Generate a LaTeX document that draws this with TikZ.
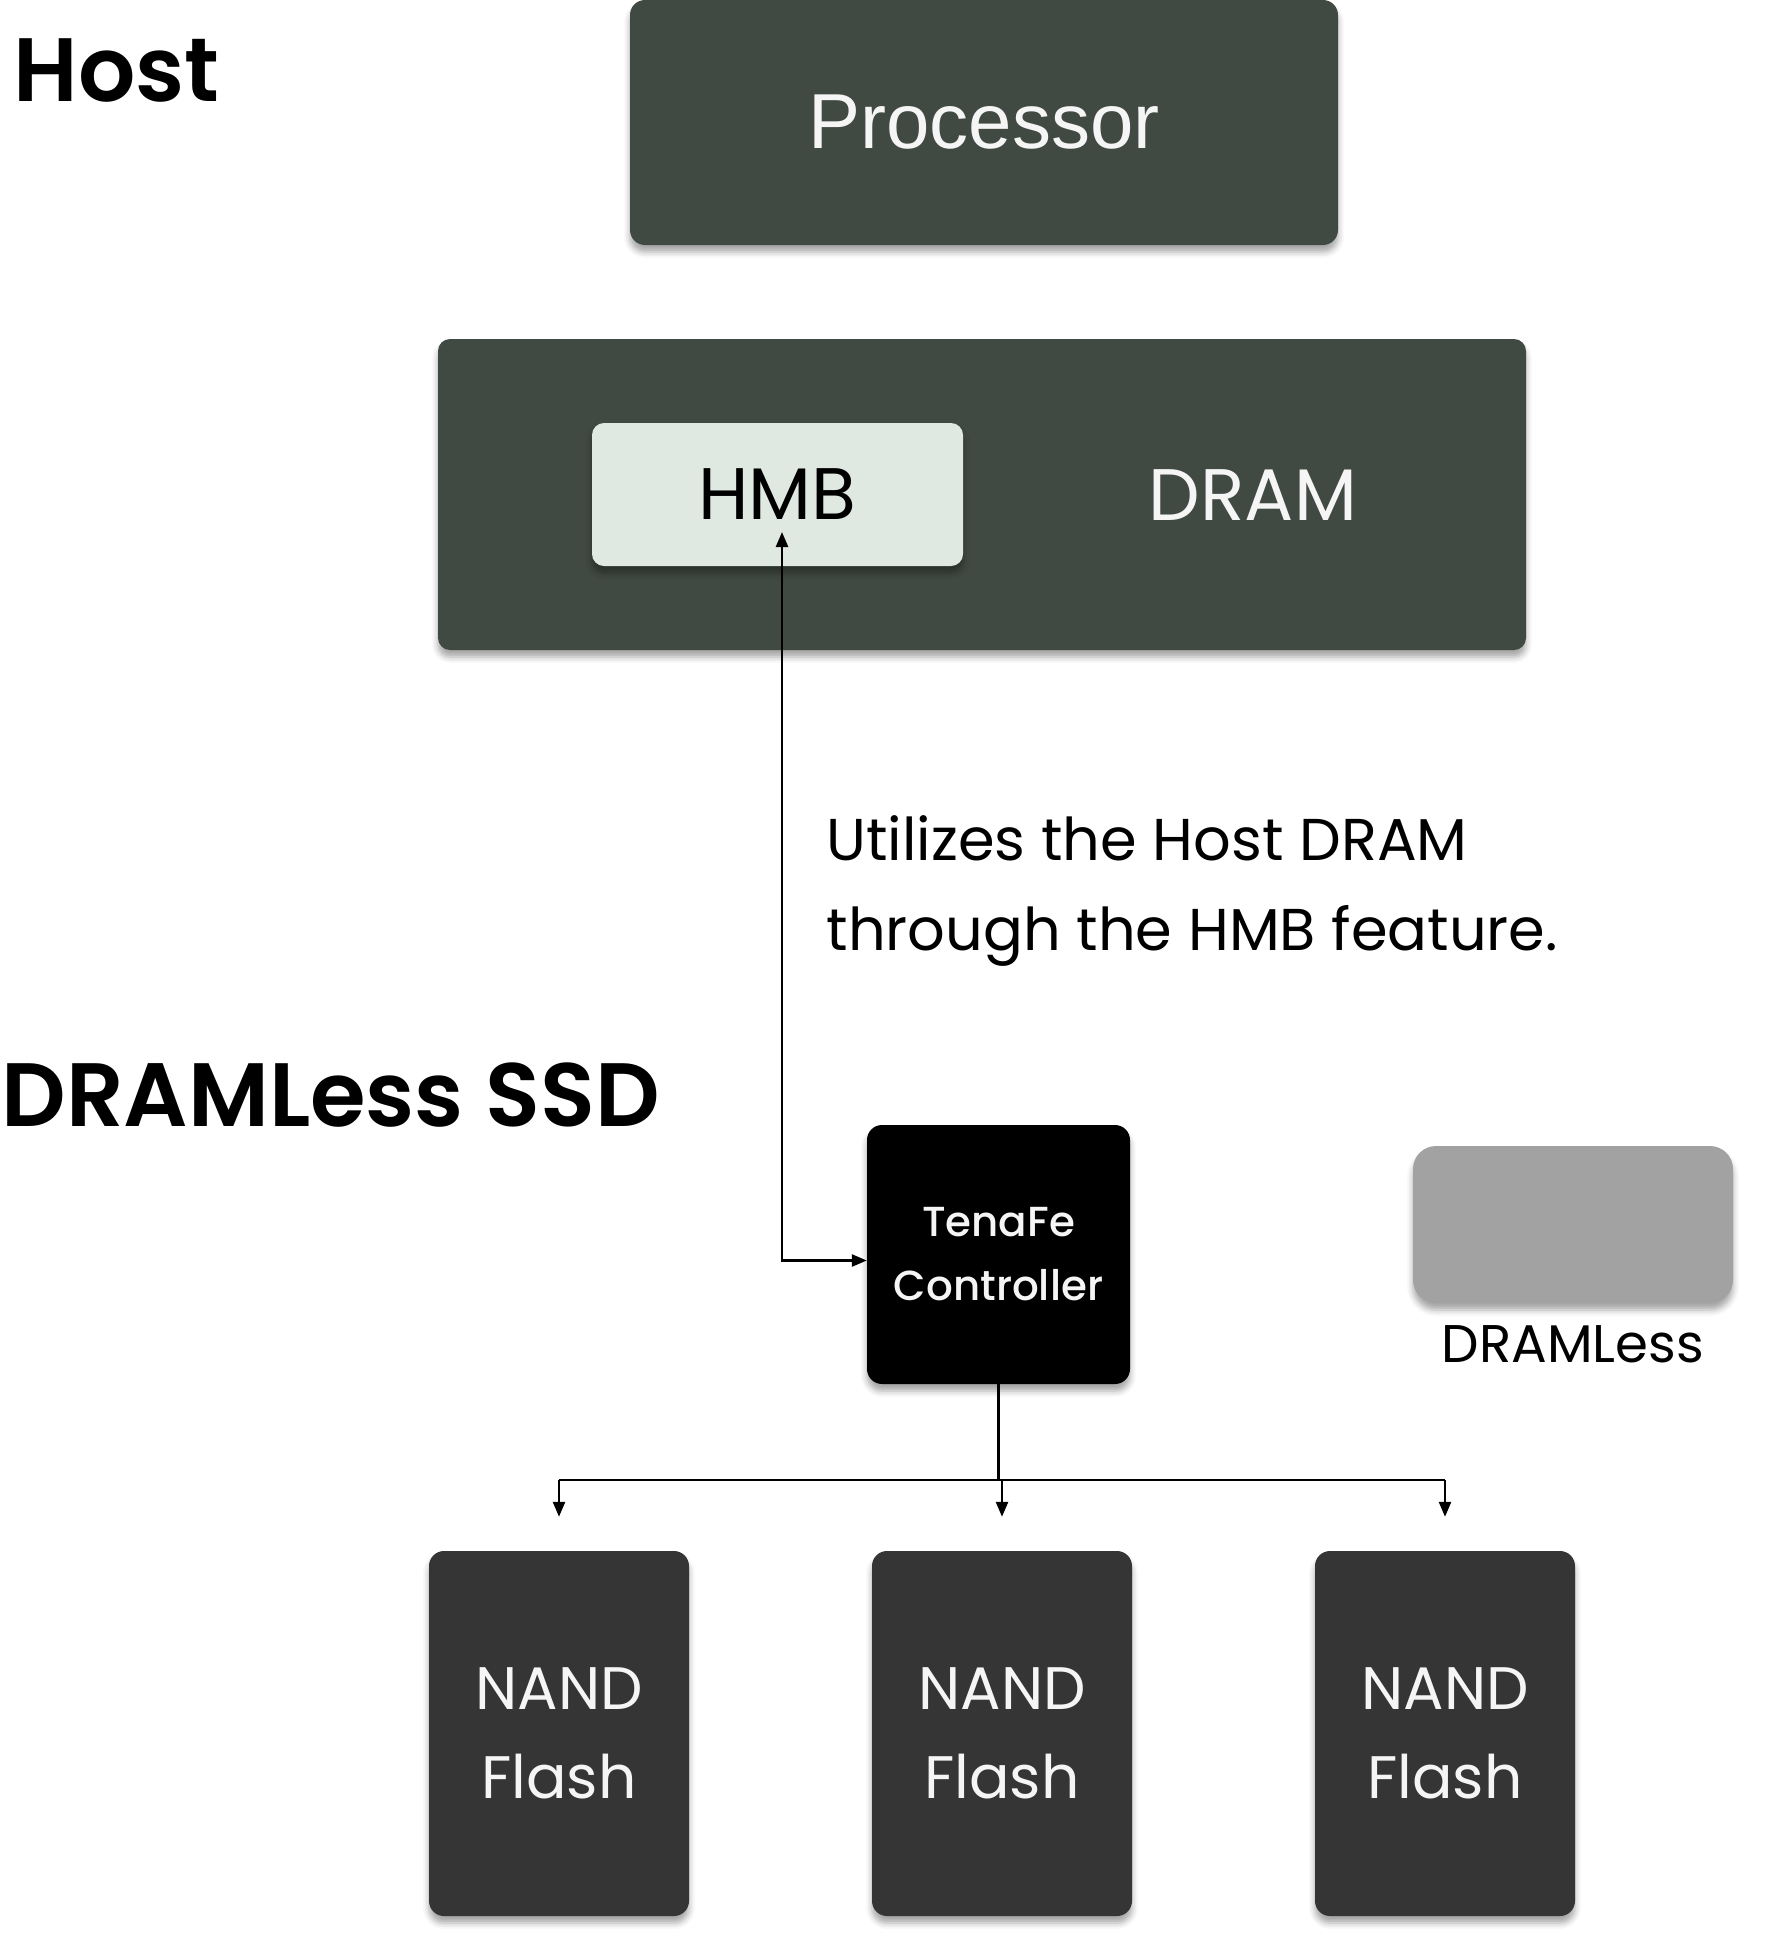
\documentclass[tikz,border=0pt]{standalone}
\usepackage{fontspec}
\setmainfont{Poppins}
\newfontfamily\procfont{Liberation Sans}
\newfontfamily\semifont{Poppins SemiBold}
\newfontfamily\medfont{Poppins Medium}
\usetikzlibrary{positioning,arrows.meta,shadows.blur}

\definecolor{hostgreen}{RGB}{65,74,66}
\definecolor{hmbfill}{RGB}{224,233,225}
\definecolor{nandgray}{RGB}{53,53,53}
\definecolor{lessgray}{RGB}{162,162,162}
\definecolor{softwhite}{RGB}{245,245,245}

\begin{document}
\begin{tikzpicture}[x=1pt,y=-1pt,>={Triangle[length=15pt,width=12pt]},
    node distance=443pt,
    box/.style={rectangle,rounded corners=15pt,inner sep=0pt,
        blur shadow={shadow xshift=0pt,shadow yshift=-7pt,shadow blur radius=6pt,shadow opacity=35}},
    host box/.style={box,fill=hostgreen,text=softwhite},
    nand box/.style={box,fill=nandgray,text=softwhite,minimum width=260pt,minimum height=365pt,
        align=center,font=\fontsize{60}{89}\selectfont},
    wire/.style={line width=2.5pt}]

    \useasboundingbox (0,0) rectangle (1782,1941);

    % host side
    \node[anchor=base west,font=\fontsize{90}{100}\selectfont\semifont] (host) at (10,101) {Host};
    \node[host box,minimum width=708pt,minimum height=245pt,font=\fontsize{78}{90}\selectfont\procfont] (proc) at (984,122.5) {Processor};
    \node[host box,rounded corners=12pt,minimum width=1088pt,minimum height=311pt] (dram) at (982,494.5) {};
    \node[text=softwhite,font=\fontsize{73}{80}\selectfont] (dramtxt) at (1253,495) {DRAM};
    \node[box,rounded corners=12pt,fill=hmbfill,minimum width=371pt,minimum height=143pt,font=\fontsize{73}{80}\selectfont] (hmb) at (777.5,494.5) {HMB};
    \coordinate (hmbin) at (782,532);

    \node[anchor=base west,align=left,font=\fontsize{59}{90}\selectfont] (note) at (823,950)
        {Utilizes the Host DRAM\\through the HMB feature.};

    % ssd side
    \node[anchor=base west,font=\fontsize{90}{100}\selectfont\semifont] (ssd) at (-2,1126) {DRAMLess SSD};
    \node[box,fill=black,text=softwhite,minimum width=263pt,minimum height=259pt,align=center,
        font=\fontsize{42}{64}\selectfont\medfont] (ctrl) at (998.5,1254.5) {TenaFe\\Controller};
    \node[box,rounded corners=23pt,fill=lessgray,minimum width=320pt,minimum height=157pt] (less) at (1573,1224.5) {};
    \node[below=22pt of less,inner sep=0pt,font=\fontsize{53}{60}\selectfont] (lesstxt) {DRAMLess};

    \node[nand box] (nand1) at (559,1733.5) {NAND\\Flash};
    \node[nand box] (nand2) [right of = nand1] {NAND\\Flash};
    \node[nand box] (nand3) [right of = nand2] {NAND\\Flash};

    \draw[wire,<->] (hmbin) |- ([yshift=-6pt]ctrl.west);
    \draw[wire] (ctrl.south) -- ++(0,96) coordinate (bus);
    \draw[wire] (nand1.north |- bus) -- (nand3.north |- bus);
    \foreach \n in {nand1,nand2,nand3}
        \draw[wire,->] (\n.north |- bus) -- ([yshift=34pt]\n.north);
\end{tikzpicture}
\end{document}
